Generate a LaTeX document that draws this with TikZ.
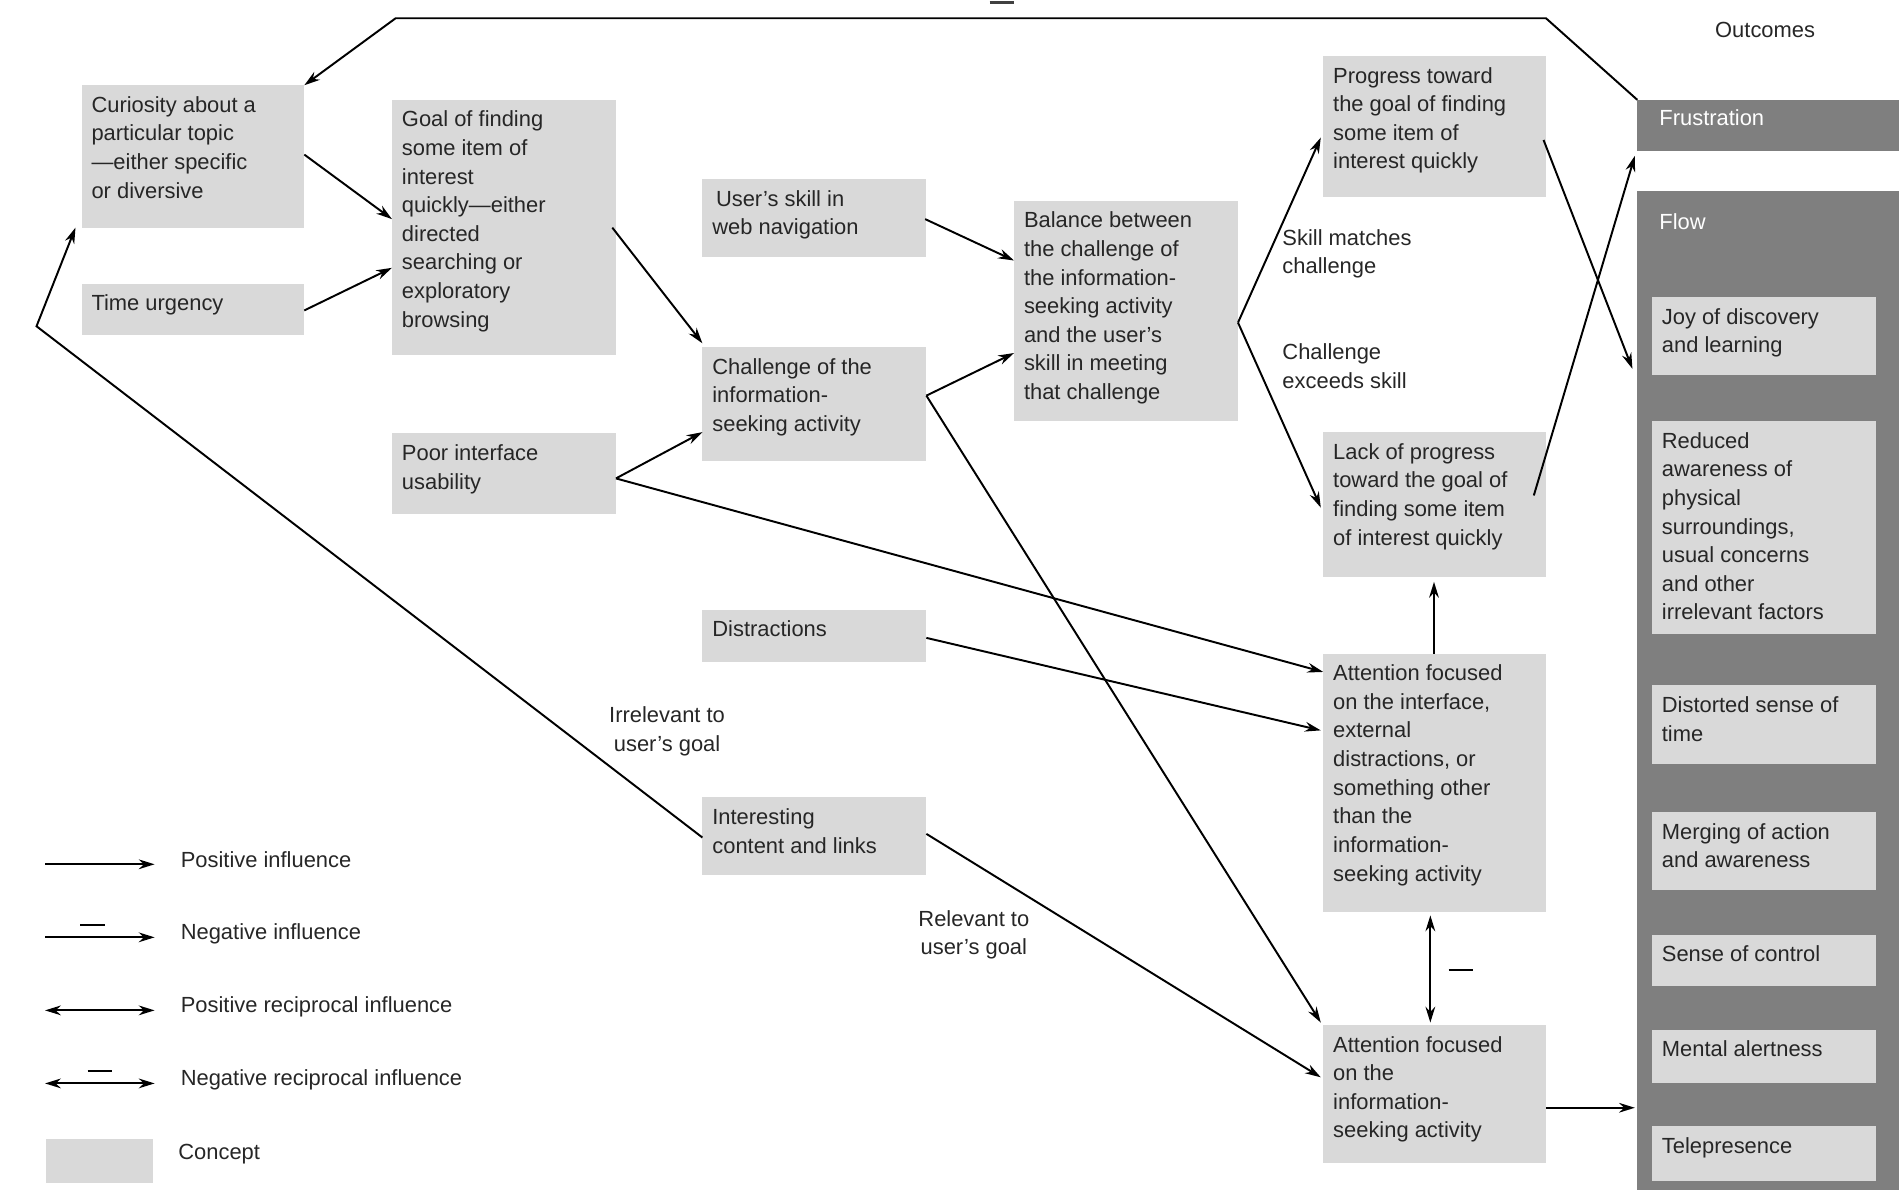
\documentclass[tikz,border=0pt]{standalone}
\usepackage{fontspec}
\setmainfont{Liberation Sans}
\usetikzlibrary{arrows.meta}
\definecolor{lg}{HTML}{D9D9D9}
\definecolor{dg}{HTML}{7F7F7F}
\begin{document}
\begin{tikzpicture}[x=1pt,y=-1pt,
  txt/.style={font=\fontsize{18}{23.5}\selectfont,text=black!85,align=left},
  box/.style={fill=lg,draw=none,inner sep=0pt},
  ar/.style={line width=1.6pt,-{Stealth[length=13pt,width=8pt]}},
  ln/.style={line width=1.6pt}]
\useasboundingbox (0,0) rectangle (1560,977);
\newcommand{\bx}[6]{% name x1 y1 x2 y2 text
  \path[box] (#2,#3) rectangle (#4,#5);
  \node[txt,anchor=north west,inner sep=0pt] (#1t) at (#2+8,#3+9) {#6};
  \coordinate (#1) at ({(#2+#4)/2},{(#3+#5)/2});}
\bx{cur}{67}{70}{250}{187}{Curiosity about a\\particular topic\\—either specific\\or diversive}
\bx{time}{67}{233}{250}{275}{Time urgency}
\bx{goal}{322}{82}{506}{292}{Goal of finding\\some item of\\interest\\quickly—either\\directed\\searching or\\exploratory\\browsing}
\bx{skill}{577}{147}{761}{211}{\,User's skill in\\web navigation}
\bx{poor}{322}{356}{506}{422}{Poor interface\\usability}
\bx{chal}{577}{285}{761}{379}{Challenge of the\\information-\\seeking activity}
\bx{bal}{833}{165}{1017}{346}{Balance between\\the challenge of\\the information-\\seeking activity\\and the user's\\skill in meeting\\that challenge}
\bx{prog}{1087}{46}{1270}{162}{Progress toward\\the goal of finding\\some item of\\interest quickly}
\bx{lack}{1087}{355}{1270}{474}{Lack of progress\\toward the goal of\\finding some item\\of interest quickly}
\bx{dist}{577}{501}{761}{544}{Distractions}
\bx{ai}{1087}{537}{1270}{749}{Attention focused\\on the interface,\\external\\distractions, or\\something other\\than the\\information-\\seeking activity}
\bx{int}{577}{655}{761}{719}{Interesting\\content and links}
\bx{aa}{1087}{842}{1270}{955}{Attention focused\\on the\\information-\\seeking activity}
% outcomes
\path[fill=dg] (1345,82) rectangle (1560,124);
\node[txt,text=white,anchor=north west,inner sep=0pt] (frt) at (1363,90) {Frustration};
\path[fill=dg] (1345,157) rectangle (1560,985);
\node[txt,text=white,anchor=north west,inner sep=0pt] (flowt) at (1363,175) {Flow};
\bx{joy}{1357}{244}{1541}{308}{Joy of discovery\\and learning}
\bx{red}{1357}{346}{1541}{521}{Reduced\\awareness of\\physical\\surroundings,\\usual concerns\\and other\\irrelevant factors}
\bx{dis}{1357}{563}{1541}{628}{Distorted sense of\\time}
\bx{mer}{1357}{667}{1541}{731}{Merging of action\\and awareness}
\bx{sen}{1357}{768}{1541}{810}{Sense of control}
\bx{men}{1357}{846}{1541}{890}{Mental alertness}
\bx{tel}{1357}{925}{1541}{970}{Telepresence}
\node[txt] (outc) at (1450,25) {Outcomes};
% connectors
\coordinate (c1) at (1270,15); \coordinate (c2) at (325,15);
\draw[ar] (1345,82) -- (c1) -- (c2) -- (250,70);
\draw[line width=3pt,black!75] (813,2) -- (833,2);
\coordinate (c3) at (30,268);
\draw[ar] (577,688) -- (c3) -- (62,187);
\node[txt,align=center] (irr) at (548,601) {Irrelevant to\\user's goal};
\draw[ar] (250,127) -- (322,180);
\draw[ar] (250,255) -- (322,220);
\draw[ar] (503,187) -- (577,282);
\draw[ar] (760,180) -- (833,214);
\draw[ar] (506,393) -- (577,355);
\draw[ar] (506,393) -- (1087,552);
\draw[ar] (761,325) -- (833,290);
\draw[ar] (761,325) -- (1085,840);
\draw[ar] (1017,265) -- (1085,113);
\draw[ar] (1017,265) -- (1085,417);
\node[txt,anchor=north west] (sm) at (1050,185) {Skill matches\\challenge};
\node[txt,anchor=north west] (ce) at (1050,279) {Challenge\\exceeds skill};
\draw[ar] (1268,115) -- (1341,303);
\draw[ar] (1260,407) -- (1343,128);
\draw[ar] (761,524) -- (1085,600);
\draw[ar] (1178,537) -- (1178,478);
\draw[line width=1.6pt,{Stealth[length=13pt,width=8pt]}-{Stealth[length=13pt,width=8pt]}] (1175,752) -- (1175,840);
\draw[line width=1.6pt] (1190,797) -- (1210,797);
\draw[ar] (761,685) -- (1085,885);
\node[txt,align=center] (rel) at (800,768) {Relevant to\\user's goal};
\draw[ar] (1270,910) -- (1343,910);
% legend
\draw[ar] (37,710) -- (127,710);
\node[txt,anchor=west] (l1) at (145,706) {Positive influence};
\draw[ar] (37,770) -- (127,770);
\draw[line width=1.3pt] (66,760) -- (86,760);
\node[txt,anchor=west] (l2) at (145,767) {Negative influence};
\draw[line width=1.6pt,{Stealth[length=13pt,width=8pt]}-{Stealth[length=13pt,width=8pt]}] (37,830) -- (127,830);
\node[txt,anchor=west] (l3) at (145,827) {Positive reciprocal influence};
\draw[line width=1.6pt,{Stealth[length=13pt,width=8pt]}-{Stealth[length=13pt,width=8pt]}] (37,890) -- (127,890);
\draw[line width=1.3pt] (72,880) -- (92,880);
\node[txt,anchor=west] (l4) at (145,887) {Negative reciprocal influence};
\path[box] (38,936) rectangle (126,972);
\node[txt,anchor=west] (l5) at (143,948) {Concept};
\end{tikzpicture}
\end{document}
